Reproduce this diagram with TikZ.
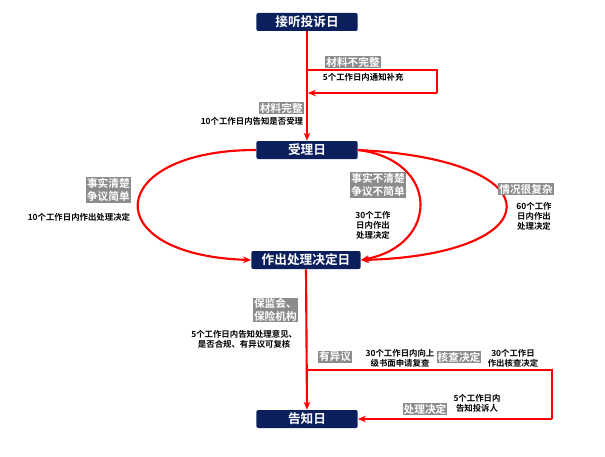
\documentclass[tikz,border=0pt]{standalone}
\usepackage{fontspec}
\setmainfont{Noto Sans CJK SC Bold}
\usetikzlibrary{arrows.meta}
\definecolor{navy}{HTML}{0A1F5C}
\definecolor{redl}{HTML}{FF0000}
\definecolor{grayl}{HTML}{8C8C8C}
\begin{document}
\begin{tikzpicture}[x=0.75pt,y=-0.75pt,
  stage/.style={fill=navy,text=white,rounded corners=1.5pt,font=\fontsize{9.5}{10}\selectfont,minimum width=76pt,minimum height=13.5pt,inner sep=0pt},
  tag/.style={fill=grayl,text=white,font=\fontsize{8}{9.5}\selectfont,inner sep=0.8pt,align=center},
  note/.style={font=\fontsize{6.3}{7.6}\selectfont,inner sep=0.5pt,align=center},
  flow/.style={draw=redl,line width=1.6pt,-{Stealth[length=6pt,width=5pt]}},
  seg/.style={draw=redl,line width=1.6pt}]
\useasboundingbox (0,0) rectangle (605,456);
\node[stage] (a) at (307,22) {接听投诉日};
\node[stage] (b) at (307,150) {受理日};
\node[stage,minimum width=82pt] (c) at (306,260) {作出处理决定日};
\node[stage] (d) at (307,419) {告知日};
% top
\draw[flow] (a.south) -- (b.north);
\coordinate (l1) at (308,70); \coordinate (l2) at (437,70);
\coordinate (l3) at (437,93); \coordinate (l4) at (308,93);
\draw[seg] (l1) -- (l2) -- (l3);
\draw[flow] (l3) -- (l4);
\node[tag] (t1) at (353,62) {材料不完整};
\node[note,anchor=west] (n1) at (322,77) {5个工作日内通知补充};
\node[tag,anchor=east] (t2) at (304,108) {材料完整};
\node[note,anchor=east] (n2) at (304,121) {10个工作日内告知是否受理};
% curves
\draw[flow] (b.west) .. controls (105,150) and (95,255) .. (c.west);
\draw[flow] (b.east) .. controls (440,160) and (440,245) .. (c.east);
\draw[flow] (b.east) .. controls (560,160) and (550,255) .. (c.east);
\node[tag,anchor=east] (t3) at (131,190) {事实清楚\\争议简单};
\node[note,anchor=east] (n3) at (131,217) {10个工作日内作出处理决定};
\node[tag] (t4) at (378,185) {事实不清楚\\争议不简单};
\node[note] (n4) at (373,225) {30个工作\\日内作出\\处理决定};
\node[tag] (t5) at (526,189) {情况很复杂};
\node[note] (n5) at (534,216) {60个工作\\日内作出\\处理决定};
% bottom
\draw[flow] (c.south) -- (d.north);
\node[tag,anchor=east] (t6) at (298,310) {保监会、\\保险机构};
\node[note,anchor=east] (n6) at (298,339) {5个工作日内告知处理意见、\\是否合规、有异议可复核};
\coordinate (r1) at (307,370); \coordinate (r2) at (552,370); \coordinate (r3) at (552,419);
\draw[seg] (r1) -- (r2) -- (r3);
\draw[flow] (r3) -- (d.east);
\node[tag] (t7) at (335,357) {有异议};
\node[note] (n7) at (400,358) {30个工作日内向上\\级书面申请复查};
\node[tag] (t8) at (459,357) {核查决定};
\node[note] (n8) at (513,358) {30个工作日\\作出核查决定};
\node[tag] (t9) at (425,409) {处理决定};
\node[note] (n9) at (477,403) {5个工作日内\\告知投诉人};
\end{tikzpicture}
\end{document}
